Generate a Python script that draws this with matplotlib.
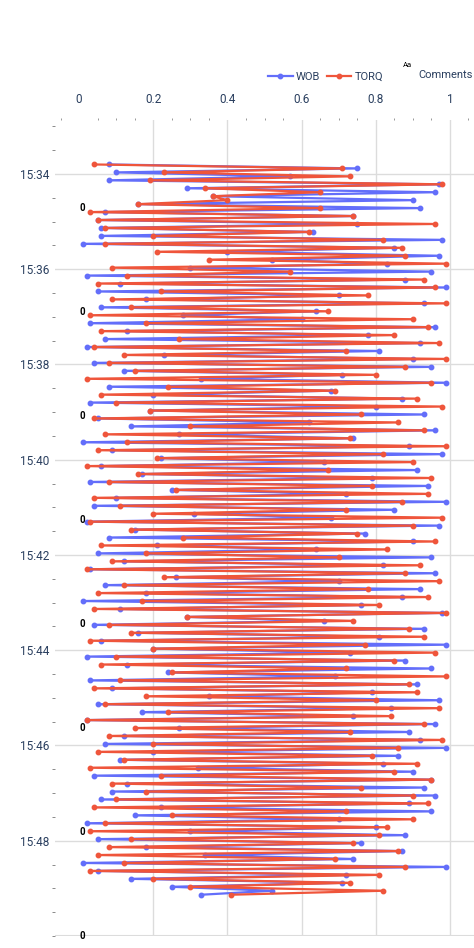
import datetime as dt
import matplotlib
matplotlib.use("Agg")
import matplotlib.pyplot as plt
import matplotlib.dates as mdates
import numpy as np

# 📊 データ (5秒間隔のサンプル)
wob = [
    0.08, 0.75, 0.10, 0.57, 0.08, 0.97, 0.29, 0.96, 0.36, 0.90,
    0.16, 0.92, 0.07, 0.74, 0.05, 0.75, 0.06, 0.63, 0.06, 0.98,
    0.01, 0.85, 0.40, 0.97, 0.52, 0.83, 0.30, 0.95, 0.02, 0.88,
    0.11, 0.99, 0.05, 0.70, 0.18, 0.93, 0.06, 0.64, 0.28, 0.60,
    0.03, 0.96, 0.13, 0.78, 0.07, 0.92, 0.02, 0.81, 0.23, 0.90,
    0.04, 0.95, 0.12, 0.71, 0.33, 0.99, 0.08, 0.68, 0.20, 0.87,
    0.03, 0.80, 0.19, 0.93, 0.05, 0.62, 0.14, 0.96, 0.27, 0.74,
    0.01, 0.89, 0.09, 0.98, 0.22, 0.66, 0.06, 0.91, 0.17, 0.79,
    0.03, 0.94, 0.25, 0.72, 0.10, 0.99, 0.04, 0.85, 0.31, 0.68,
    0.02, 0.97, 0.15, 0.77, 0.08, 0.90, 0.21, 0.64, 0.05, 0.95,
    0.12, 0.82, 0.03, 0.96, 0.26, 0.70, 0.07, 0.92, 0.18, 0.87,
    0.01, 0.76, 0.11, 0.98, 0.29, 0.66, 0.04, 0.93, 0.16, 0.81,
    0.06, 0.99, 0.20, 0.73, 0.02, 0.88, 0.13, 0.95, 0.24, 0.69,
    0.03, 0.91, 0.09, 0.79, 0.35, 0.97, 0.05, 0.84, 0.17, 0.74,
    0.02, 0.96, 0.27, 0.89, 0.12, 0.92, 0.07, 0.99, 0.20, 0.86,
    0.11, 0.82, 0.32, 0.90, 0.04, 0.95, 0.13, 0.93, 0.09, 0.96,
    0.06, 0.89, 0.22, 0.95, 0.15, 0.70, 0.02, 0.80, 0.30, 0.88,
    0.05, 0.76, 0.18, 0.87, 0.34, 0.74, 0.01, 0.99, 0.05, 0.72,
    0.14, 0.71, 0.25, 0.52, 0.33,
]
torq = [
    0.04, 0.71, 0.23, 0.73, 0.19, 0.98, 0.34, 0.65, 0.36, 0.40,
    0.16, 0.65, 0.03, 0.74, 0.05, 0.96, 0.07, 0.62, 0.20, 0.82,
    0.07, 0.87, 0.21, 0.88, 0.35, 0.99, 0.09, 0.57, 0.13, 0.93,
    0.05, 0.96, 0.22, 0.78, 0.09, 0.99, 0.14, 0.67, 0.03, 0.90,
    0.18, 0.94, 0.06, 0.85, 0.27, 0.97, 0.04, 0.72, 0.12, 0.99,
    0.08, 0.88, 0.15, 0.80, 0.02, 0.95, 0.24, 0.69, 0.06, 0.91,
    0.10, 0.98, 0.19, 0.76, 0.04, 0.86, 0.30, 0.93, 0.07, 0.73,
    0.13, 0.99, 0.05, 0.82, 0.21, 0.90, 0.02, 0.67, 0.16, 0.95,
    0.08, 0.79, 0.26, 0.94, 0.04, 0.87, 0.11, 0.72, 0.20, 0.98,
    0.03, 0.90, 0.14, 0.75, 0.28, 0.96, 0.06, 0.83, 0.18, 0.70,
    0.09, 0.92, 0.02, 0.88, 0.23, 0.97, 0.12, 0.78, 0.05, 0.94,
    0.17, 0.81, 0.04, 0.99, 0.29, 0.74, 0.08, 0.89, 0.14, 0.93,
    0.03, 0.77, 0.20, 0.96, 0.10, 0.85, 0.06, 0.72, 0.25, 0.99,
    0.11, 0.89, 0.04, 0.91, 0.18, 0.80, 0.07, 0.97, 0.24, 0.84,
    0.02, 0.93, 0.15, 0.73, 0.08, 0.98, 0.20, 0.86, 0.05, 0.79,
    0.12, 0.91, 0.03, 0.85, 0.22, 0.95, 0.09, 0.76, 0.18, 0.90,
    0.10, 0.94, 0.04, 0.72, 0.25, 0.90, 0.07, 0.83, 0.03, 0.81,
    0.14, 0.74, 0.08, 0.86, 0.05, 0.69, 0.12, 0.88, 0.03, 0.81,
    0.20, 0.73, 0.30, 0.82, 0.41,
]
comment_times = ["15:34:43", "15:36:54", "15:39:05", "15:41:16",
                 "15:43:27", "15:45:38", "15:47:49", "15:50:00"]
comment_text = "0"
time_labels = ["15:34", "15:36", "15:38", "15:40", "15:42", "15:44", "15:46", "15:48"]

day = dt.datetime(2024, 1, 1)
t0 = dt.datetime(2024, 1, 1, 15, 33, 48)
times = [t0 + dt.timedelta(seconds=5 * i) for i in range(len(wob))]


def hms(s):
    parts = list(map(int, s.split(":"))) + [0]
    return day.replace(hour=parts[0], minute=parts[1], second=parts[2])


BLUE = "#636efa"
RED = "#ef553b"
TXT = "#2a3f5f"
GRID = "#dcdcdc"

plt.rcParams["font.family"] = ["Roboto", "DejaVu Sans"]

fig = plt.figure(figsize=(4.74, 9.48), dpi=100)
ax = fig.add_axes([55 / 474, 12 / 948, 1 - 55 / 474, (936 - 120) / 948])

ax.plot(wob, times, color=BLUE, lw=1.6, marker="o", ms=3.2, label="WOB", zorder=3)
ax.plot(torq, times, color=RED, lw=1.6, marker="o", ms=3.2, label="TORQ", zorder=4)

for c in comment_times:
    ax.text(0.0, hms(c), comment_text, fontsize=7, fontweight="bold",
            ha="left", va="center", color="black", zorder=5)

ax.set_xlim(-0.065, 1.065)
ax.set_ylim(hms("15:50:00"), dt.datetime(2024, 1, 1, 15, 32, 52))

# x 軸 (上側)
ax.xaxis.tick_top()
ax.set_xticks([0, 0.2, 0.4, 0.6, 0.8, 1.0])
ax.set_xticklabels(["0", "0.2", "0.4", "0.6", "0.8", "1"])
ax.set_xticks(np.arange(-0.05, 1.06, 0.05), minor=True)
ax.tick_params(axis="x", which="major", length=0, pad=10, labelsize=8.5, labelcolor=TXT)
ax.tick_params(axis="x", which="minor", length=1.5, color="#888888", direction="out", pad=2)
for xv in [0.2, 0.4, 0.6, 0.8, 1.0]:
    ax.axvline(xv, color=GRID, lw=1, zorder=0)

# y 軸 (時刻)
ax.set_yticks([mdates.date2num(hms(t)) for t in time_labels])
ax.set_yticklabels(time_labels)
ax.yaxis.set_minor_locator(mdates.SecondLocator(bysecond=[0, 30]))
ax.tick_params(axis="y", which="major", length=0, pad=4, labelsize=8.5, labelcolor=TXT)
ax.tick_params(axis="y", which="minor", length=2, color="#777777", direction="out")
ax.grid(axis="y", which="major", color=GRID, lw=1, zorder=0)
ax.axhline(hms("15:50:00"), color=GRID, lw=1.5, zorder=0)
ax.set_axisbelow(True)

for s in ax.spines.values():
    s.set_visible(False)

fig.legend(loc="upper right", bbox_to_anchor=(0.83, 0.935), ncol=2, frameon=False,
           fontsize=8, handlelength=2.2, columnspacing=0.6, handletextpad=0.3,
           labelcolor=TXT)
fig.text(0.85, 0.928, "Aa", fontsize=5.5, color="black", ha="left", va="bottom")
fig.text(0.882, 0.921, "Comments", fontsize=8, color=TXT, ha="left", va="center")

fig.savefig("out.png", dpi=100)
